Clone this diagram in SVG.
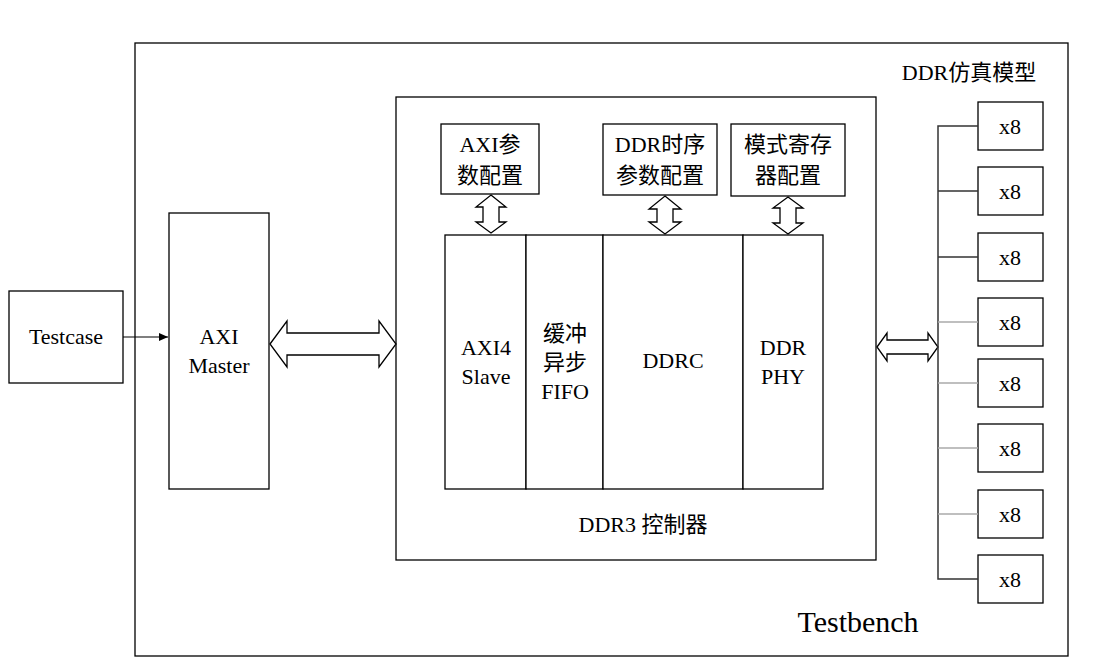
<svg xmlns="http://www.w3.org/2000/svg" width="1100" height="671" viewBox="0 0 1100 671">
<style>
.b{fill:#fff;stroke:#000;stroke-width:1.3}
.t{font-family:"Liberation Serif","Noto Sans CJK SC",serif;font-size:22px;text-anchor:middle;fill:#000}
.l{stroke:#333;stroke-width:1.5;fill:none}
.g{stroke:#aaa;stroke-width:1.3;fill:none}
</style>
<defs><marker id="a" markerWidth="10" markerHeight="10" refX="9" refY="5" orient="auto" markerUnits="userSpaceOnUse"><path d="M0,1 L9,5 L0,9 Z" fill="#000"/></marker></defs>
<rect width="1100" height="671" fill="#fff"/>
<g id="testbench"><rect class="b" x="135" y="43" width="933" height="613"/><text class="t" x="858" y="632" style="font-size:30px">Testbench</text><text class="t" x="969" y="80">DDR仿真模型</text></g>
<g id="testcase"><rect class="b" x="9" y="291" width="114" height="92"/><text class="t" x="66" y="344">Testcase</text></g>
<g id="axi-master"><rect class="b" x="169" y="213" width="100" height="276"/><text class="t" x="219" y="344">AXI</text><text class="t" x="219" y="373">Master</text></g>
<g id="ddr3"><rect class="b" x="396" y="97" width="480" height="463"/><text class="t" x="643" y="532">DDR3 控制器</text></g>
<g id="axi-cfg"><rect class="b" x="441" y="124" width="98" height="70"/><text class="t" x="490" y="152">AXI参</text><text class="t" x="490" y="183">数配置</text></g>
<g id="ddr-cfg"><rect class="b" x="603" y="124" width="114" height="71"/><text class="t" x="660" y="152">DDR时序</text><text class="t" x="660" y="183">参数配置</text></g>
<g id="mode-cfg"><rect class="b" x="731" y="124" width="114" height="72"/><text class="t" x="788" y="152">模式寄存</text><text class="t" x="788" y="183">器配置</text></g>
<g id="axi4-slave"><rect class="b" x="445" y="235" width="81" height="254"/><text class="t" x="486" y="355">AXI4</text><text class="t" x="486" y="384">Slave</text></g>
<g id="fifo"><rect class="b" x="526" y="235" width="77" height="254"/><text class="t" x="565" y="341">缓冲</text><text class="t" x="565" y="370">异步</text><text class="t" x="565" y="399">FIFO</text></g>
<g id="ddrc"><rect class="b" x="603" y="235" width="140" height="254"/><text class="t" x="673" y="368">DDRC</text></g>
<g id="ddr-phy"><rect class="b" x="743" y="235" width="80" height="254"/><text class="t" x="783" y="355">DDR</text><text class="t" x="783" y="384">PHY</text></g>
<g id="x8s">
<rect class="b" x="978" y="102" width="65" height="48"/><text class="t" x="1010" y="134">x8</text>
<rect class="b" x="978" y="167" width="65" height="48"/><text class="t" x="1010" y="199">x8</text>
<rect class="b" x="978" y="233" width="65" height="48"/><text class="t" x="1010" y="265">x8</text>
<rect class="b" x="978" y="298" width="65" height="48"/><text class="t" x="1010" y="330">x8</text>
<rect class="b" x="978" y="359" width="65" height="48"/><text class="t" x="1010" y="391">x8</text>
<rect class="b" x="978" y="424" width="65" height="48"/><text class="t" x="1010" y="456">x8</text>
<rect class="b" x="978" y="490" width="65" height="48"/><text class="t" x="1010" y="522">x8</text>
<rect class="b" x="978" y="555" width="65" height="48"/><text class="t" x="1010" y="587">x8</text>
</g>
<g id="connectors">
<line x1="123" y1="337" x2="168" y2="337" stroke="#000" stroke-width="1.2" marker-end="url(#a)"/>
<path class="b" d="M270,344 L287,321 L287,333 L379,333 L379,321 L396,344 L379,367 L379,355 L287,355 L287,367 Z"/>
<path class="b" d="M877,347 L887,333 L887,340 L928,340 L928,333 L938,347 L928,361 L928,354 L887,354 L887,361 Z"/>
<path class="b" d="M491,195 L506,207 L499,207 L499,222 L506,222 L491,233 L476,222 L483,222 L483,207 L476,207 Z"/>
<path class="b" d="M665,196 L681,209 L673,209 L673,222 L681,222 L665,234 L649,222 L657,222 L657,209 L649,209 Z"/>
<path class="b" d="M788,197 L803,208 L796,208 L796,223 L803,223 L788,234 L773,223 L780,223 L780,208 L773,208 Z"/>
<path class="l" d="M978,126 L938,126 L938,579 L978,579 M938,191 L978,191 M938,257 L978,257"/>
<path class="g" d="M938,322 L978,322 M938,383 L978,383 M938,448 L978,448 M938,514 L978,514"/>
</g>
</svg>
